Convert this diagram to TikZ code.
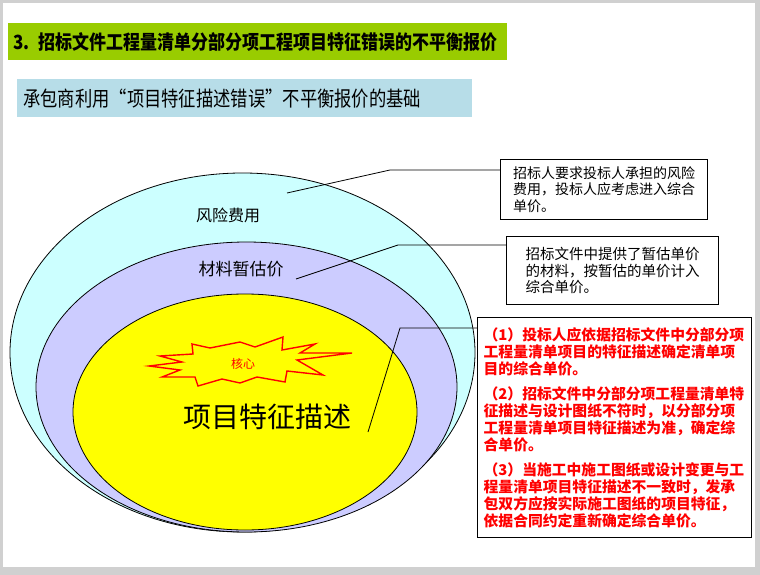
\documentclass[tikz,border=0pt]{standalone}
\usepackage{fontspec}
\setmainfont{Noto Sans CJK SC}
\usetikzlibrary{shapes.geometric,positioning,calc}
\definecolor{titlegreen}{RGB}{153,204,0}
\definecolor{subblue}{RGB}{183,221,232}
\definecolor{riskcyan}{RGB}{204,255,255}
\definecolor{matlilac}{RGB}{204,204,255}
\definecolor{coreyellow}{RGB}{255,255,0}
\definecolor{framegray}{RGB}{208,208,208}

\begin{document}
\begin{tikzpicture}[x=1pt,y=-1pt,
  layer/.style={ellipse, draw=black, line width=0.8pt, inner sep=0pt},
  notebox/.style={draw=black, line width=1.3pt, fill=white, align=left, anchor=north west, inner ysep=0pt},
  lead/.style={draw=black, line width=0.8pt}]
\useasboundingbox (0,0) rectangle (760,575);
\fill[framegray] (0,0) rectangle (760,575);
\fill[white] (3,3) rectangle (755,567);

% headings
\node[fill=titlegreen, anchor=north west, minimum height=37pt, text width=489pt, inner xsep=5pt, align=left,
  font=\bfseries\fontsize{17}{20}\selectfont] (title) at (8,23)
  {\scalebox{1}[1.15]{3. 招标文件工程量清单分部分项工程项目特征错误的不平衡报价}};
\node[fill=subblue, anchor=north west, minimum height=38pt, text width=443pt, inner xsep=6pt, align=left,
  font=\fontsize{17.3}{20}\selectfont] (subtitle) at (17,79)
  {\scalebox{1}[1.2]{承包商利用“项目特征描述错误”不平衡报价的基础}};

% nested layers
\node[layer, fill=riskcyan, minimum width=465pt, minimum height=359pt] (risk) at (242.5,352.5) {};
\node[layer, fill=matlilac, minimum width=421pt, minimum height=290pt] (mat) at (246.5,387) {};
\node[layer, fill=coreyellow, minimum width=344pt, minimum height=236pt] (feat) at (245,412) {};

\node[font=\fontsize{16}{18}\selectfont] (risklabel) at (228,215) {风险费用};
\node[font=\fontsize{17}{19}\selectfont] (matlabel) at (241,269) {材料暂估价};
\node[font=\fontsize{28}{30}\selectfont] (featlabel) at (267,417) {项目特征描述};

% starburst
\draw[red, line width=1.4pt, fill=coreyellow, line join=miter]
  (160,356) -- (193,354) -- (192,344) -- (210,348) -- (240,342) -- (255,347) -- (283,337)
  -- (282,350) -- (315,344) -- (300,353) -- (352,353) -- (297,360) -- (323,375) -- (287,371)
  -- (285,382) -- (257,377) -- (240,383) -- (222,379) -- (198,386) -- (195,377) -- (162,377)
  -- (180,370) -- (149,366) -- (182,362) -- cycle;
\node[text=red, font=\fontsize{12}{14}\selectfont] (core) at (243,364) {核心};

% notes
\node[notebox, text width=182pt, inner xsep=12.5pt, minimum height=60pt, font=\fontsize{14}{16.7}\selectfont]
  (riskbox) at (500,159) {招标人要求投标人承担的风险\\费用，投标人应考虑进入综合\\单价。};
\node[notebox, text width=174pt, inner xsep=19pt, minimum height=68pt, font=\fontsize{14.5}{16.5}\selectfont]
  (matbox) at (506,236) {招标文件中提供了暂估单价\\的材料，按暂估的单价计入\\综合单价。};
\node[notebox, text=red, text width=262pt, inner xsep=6pt, minimum height=220pt,
  font=\bfseries\fontsize{14.8}{17}\selectfont] (rulebox) at (477,317)
  {（1）投标人应依据招标文件中分部分项\\工程量清单项目的特征描述确定清单项\\目的综合单价。\\[8pt]
   （2）招标文件中分部分项工程量清单特\\征描述与设计图纸不符时，以分部分项\\工程量清单项目特征描述为准，确定综\\合单价。\\[8pt]
   （3）当施工中施工图纸或设计变更与工\\程量清单项目特征描述不一致时，发承\\包双方应按实际施工图纸的项目特征，\\依据合同约定重新确定综合单价。};

% leader lines
\coordinate (riskpt) at (287,193);
\coordinate (riskbend) at (390,170);
\coordinate (matpt) at (296,279);
\coordinate (matbend) at (398,245);
\coordinate (featpt) at (368,432);
\coordinate (featbend) at (400,328);
\draw[lead] (riskpt) -- (riskbend) -- (riskbend -| riskbox.west);
\draw[lead] (matpt) -- (matbend) -- (matbend -| matbox.west);
\draw[lead] (featpt) -- (featbend) -- (featbend -| rulebox.west);
\end{tikzpicture}
\end{document}
